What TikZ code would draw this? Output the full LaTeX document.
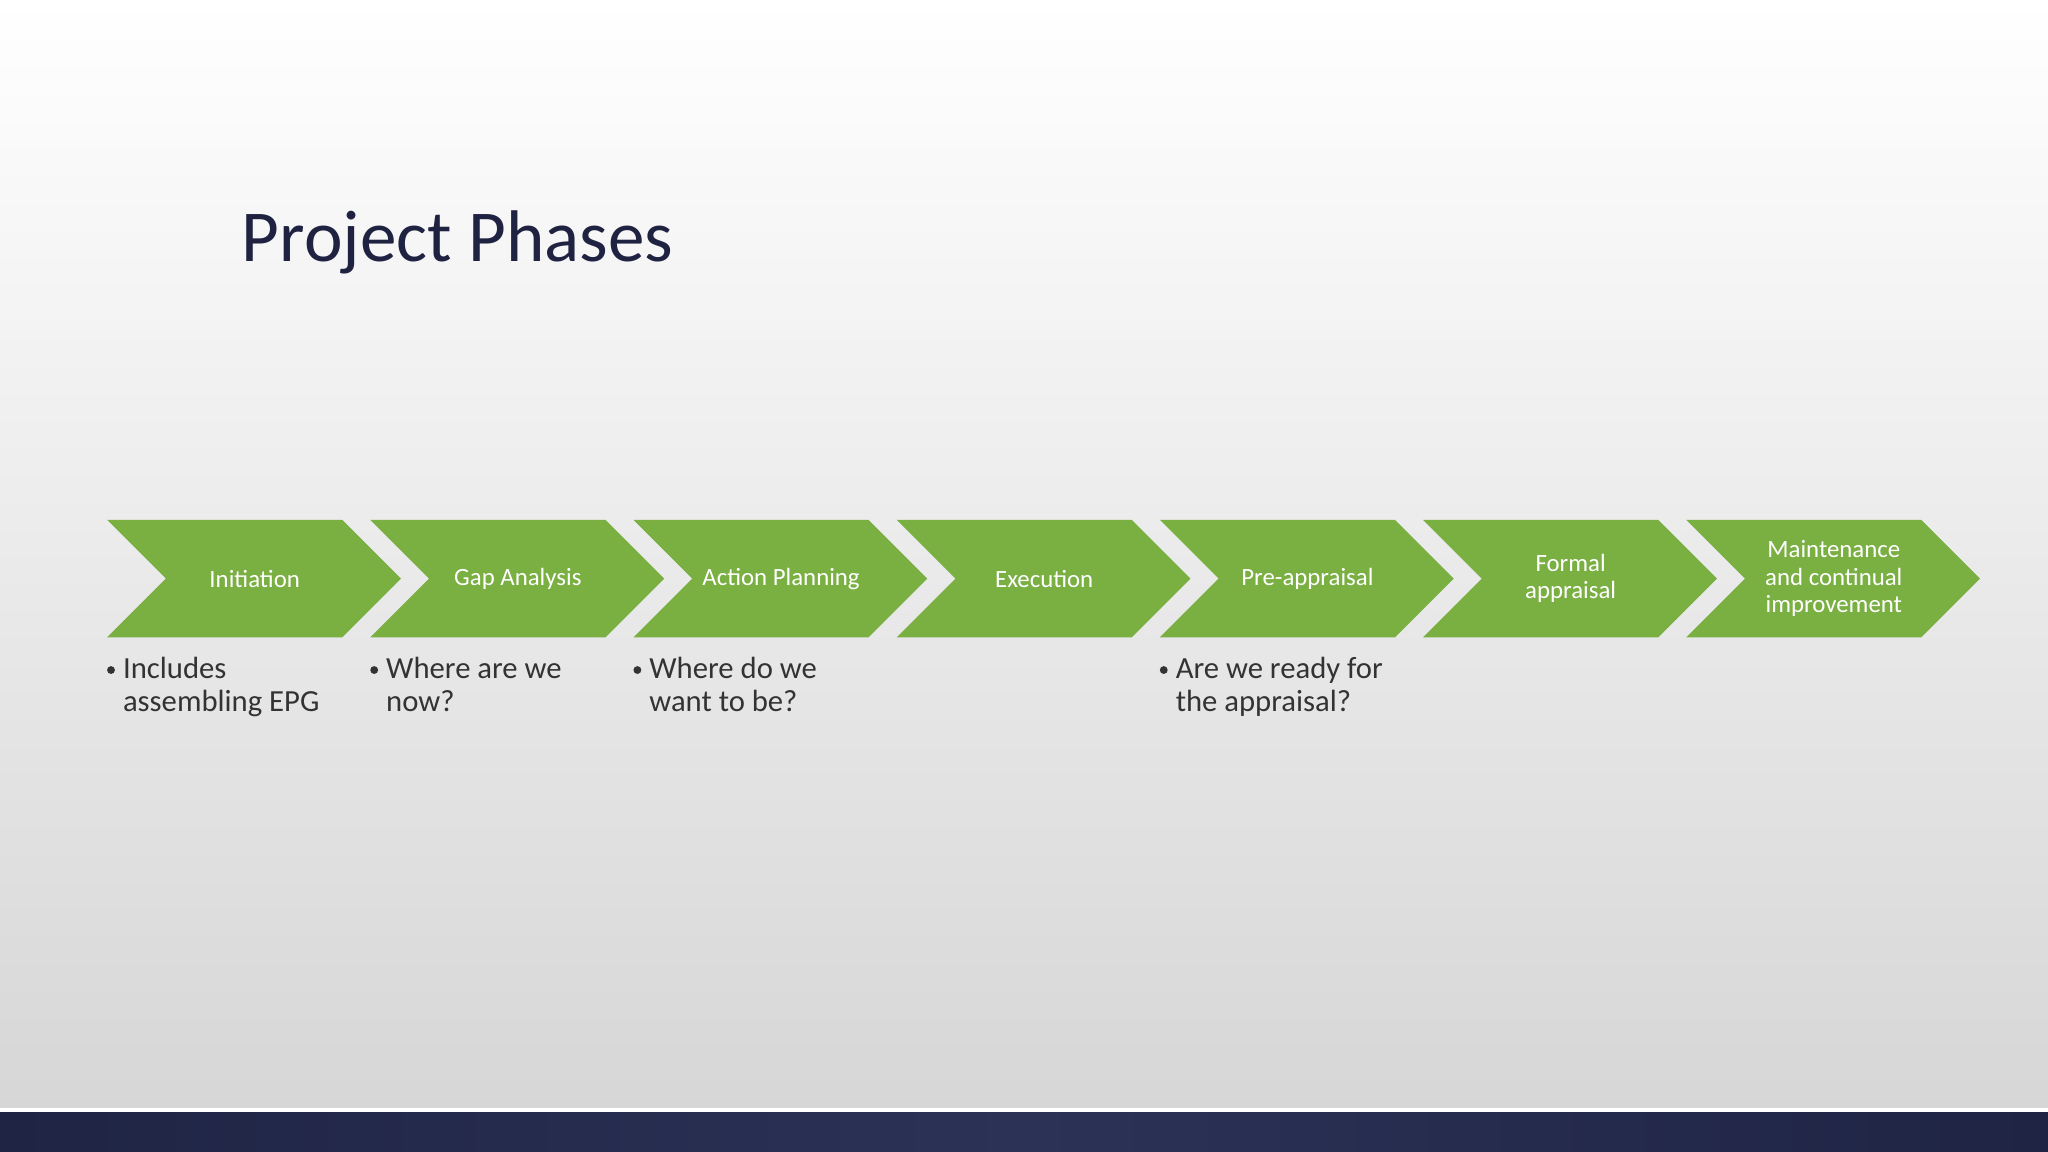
\documentclass[tikz,border=0pt]{standalone}
\usepackage{fontspec}
\setmainfont{Carlito}
\definecolor{chev}{HTML}{7AAF42}
\definecolor{navy}{HTML}{1F2444}
\definecolor{navyl}{HTML}{2B3256}
\definecolor{ttl}{HTML}{1F2240}
\definecolor{txt}{HTML}{333333}
\begin{document}
\begin{tikzpicture}[x=1pt,y=-1pt,
  lab/.style={text=white,font=\fontsize{19}{21}\selectfont,align=center},
  bul/.style={text=txt,font=\fontsize{23.5}{25}\selectfont,align=left,anchor=north west,inner sep=0pt}]
\useasboundingbox (0,0) rectangle (1568,882);
\shade[top color=white,bottom color=black!16] (0,0) rectangle (1568,848);
\fill[white] (0,848) rectangle (1568,852);
\shade[left color=navy,right color=navy,middle color=navyl] (0,852) rectangle (1568,882);
\node[anchor=base west,text=ttl,font=\fontsize{56}{60}\selectfont,inner sep=0pt] (title) at (185,200) {Project Phases};
\foreach \i/\t in {0/Initiation,1/Gap Analysis,2/Action Planning,3/Execution,4/Pre-appraisal,5/{Formal\\appraisal},6/{Maintenance\\and continual\\improvement}}{
  \pgfmathsetmacro\xo{82+201.5*\i}
  \fill[chev] (\xo,398) -- ++(180,0) -- ++(45,45) -- ++(-45,45) -- ++(-180,0) -- ++(45,-45) -- cycle;
  \node[lab] (c\i) at (\xo+113,443) {\t};
}
\foreach \i/\t in {0/{Includes\\assembling EPG},1/{Where are we\\now?},2/{Where do we\\want to be?},4/{Are we ready for\\the appraisal?}}{
  \pgfmathsetmacro\xo{82+201.5*\i}
  \node[bul] (b\i) at (\xo+12,503) {\t};
  \fill[txt] (\xo+3,513) circle (3);
}
\end{tikzpicture}
\end{document}
